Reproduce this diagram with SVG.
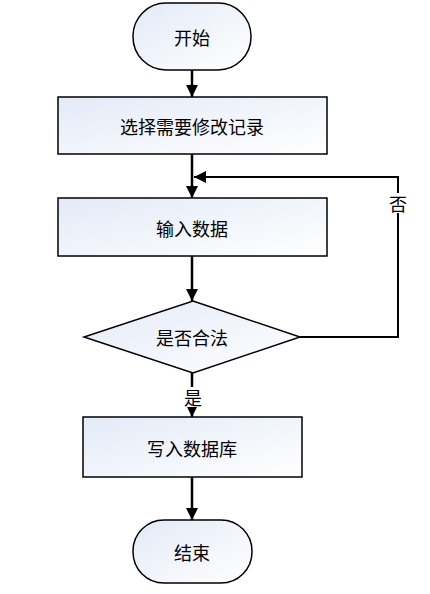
<svg xmlns="http://www.w3.org/2000/svg" width="430" height="594" viewBox="0 0 430 594">
<defs>
<linearGradient id="g" x1="0" y1="0" x2="1" y2="1">
<stop offset="0" stop-color="#e3eaf7"/>
<stop offset="1" stop-color="#ffffff"/>
</linearGradient>
<marker id="arr" markerWidth="12" markerHeight="12" viewBox="0 0 12 12" refX="12" refY="6" orient="auto" markerUnits="userSpaceOnUse">
<path d="M0,0 L12,6 L0,12 Z" fill="#000"/>
</marker>
</defs>
<style>
.s{fill:url(#g);stroke:#000;stroke-width:1.5}
.t{font-family:"Noto Sans CJK SC","Noto Sans",sans-serif;font-size:18px;fill:#000;text-anchor:middle;dominant-baseline:central}
.c{fill:none;stroke:#000;stroke-width:2.5}
</style>
<rect width="430" height="594" fill="#fff"/>
<g id="connectors">
<line class="c" x1="192" y1="70" x2="192" y2="97" marker-end="url(#arr)"/>
<line class="c" x1="192" y1="154" x2="192" y2="198" marker-end="url(#arr)"/>
<line class="c" x1="192" y1="256" x2="192" y2="301" marker-end="url(#arr)"/>
<line class="c" x1="192" y1="373" x2="192" y2="417" marker-end="url(#arr)"/>
<line class="c" x1="192" y1="477" x2="192" y2="520" marker-end="url(#arr)"/>
<polyline class="c" points="300,337 398,337 398,177 194,177" marker-end="url(#arr)" style="stroke-width:2"/>
<rect x="186" y="387" width="14" height="20" fill="#fff"/>
<text class="t" x="193" y="397">是</text>
<rect x="389" y="193" width="18" height="20" fill="#fff"/>
<text class="t" x="398" y="203">否</text>
</g>
<g id="start">
<rect class="s" x="133" y="3" width="118" height="67" rx="33" ry="33"/>
<text class="t" x="192" y="37">开始</text>
</g>
<g id="select">
<rect class="s" x="58" y="97" width="269" height="57"/>
<text class="t" x="192" y="126">选择需要修改记录</text>
</g>
<g id="input">
<rect class="s" x="58" y="198" width="269" height="58"/>
<text class="t" x="192" y="228">输入数据</text>
</g>
<g id="check">
<polygon class="s" points="193,301 300,337 193,373 84,337"/>
<text class="t" x="192" y="337">是否合法</text>
</g>
<g id="write">
<rect class="s" x="83" y="417" width="219" height="60"/>
<text class="t" x="192" y="448">写入数据库</text>
</g>
<g id="end">
<rect class="s" x="133" y="520" width="119" height="63" rx="31" ry="31"/>
<text class="t" x="192" y="552">结束</text>
</g>
</svg>
